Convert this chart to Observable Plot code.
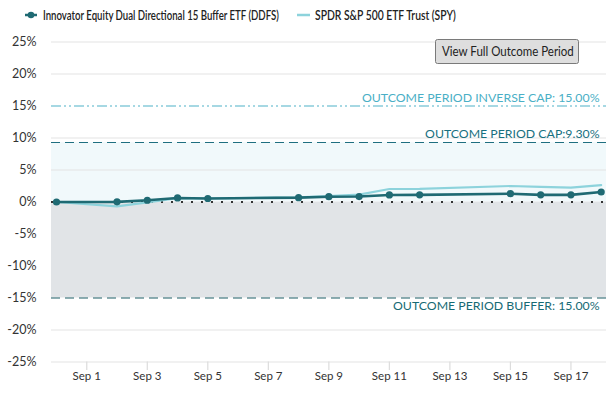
<!DOCTYPE html>
<html>
<head>
<meta charset="utf-8">
<script src="https://cdn.jsdelivr.net/npm/d3@7"></script>
<script src="https://cdn.jsdelivr.net/npm/@observablehq/plot@0.6"></script>
<style>
  html, body { margin: 0; padding: 0; background: #fff; }
  #wrap { position: relative; width: 615px; height: 393px; font-family: Lato, "Open Sans", sans-serif; }
  #overlay { position: absolute; left: 0; top: 0; width: 615px; height: 70px; }
  svg { display: block; }
</style>
</head>
<body>
<div id="wrap">
  <div id="chart"></div>
  <svg id="overlay" width="615" height="70"></svg>
</div>
<script>
const dates = ["2025-08-31","2025-09-02","2025-09-03","2025-09-04","2025-09-05","2025-09-08","2025-09-09","2025-09-10","2025-09-11","2025-09-12","2025-09-15","2025-09-16","2025-09-17","2025-09-18"];
const ddfs = [0, 0.02, 0.27, 0.63, 0.55, 0.68, 0.83, 0.85, 1.1, 1.12, 1.3, 1.12, 1.12, 1.56];
const spy  = [0, -0.68, -0.05, 0.6, 0.55, 0.72, 0.94, 1.15, 2.03, 2.05, 2.5, 2.35, 2.25, 2.65];
const seriesNames = ["Innovator Equity Dual Directional 15 Buffer ETF (DDFS)", "SPDR S&P 500 ETF Trust (SPY)"];
const yTicks = [25, 20, 15, 10, 5, 0, -5, -10, -15, -20, -25];
const gridTicks = [25, 20, 10, 5, -20, -25];
const xTickDates = ["2025-09-01","2025-09-03","2025-09-05","2025-09-07","2025-09-09","2025-09-11","2025-09-13","2025-09-15","2025-09-17"];
const capValue = 9.30;
const inverseCapValue = 15.00;
const bufferValue = -15.00;
const capLabel = "OUTCOME PERIOD CAP:9.30%";
const inverseCapLabel = "OUTCOME PERIOD INVERSE CAP: 15.00%";
const bufferLabel = "OUTCOME PERIOD BUFFER: 15.00%";
const buttonLabel = "View Full Outcome Period";

const parse = d3.utcParse("%Y-%m-%d");
const rowsD = dates.map((d, i) => ({date: parse(d), v: ddfs[i]}));
const rowsS = dates.map((d, i) => ({date: parse(d), v: spy[i]}));
const xt = xTickDates.map(parse);
const fmtX = d3.utcFormat("%b %-d");

const dark = "#1f6a73", light = "#8dd3dc";
const labelFont = "Lato, sans-serif";

const plot = Plot.plot({
  width: 615, height: 393,
  marginTop: 41.5, marginBottom: 31.5, marginLeft: 51, marginRight: 9,
  style: {fontFamily: labelFont, background: "transparent"},
  x: {type: "utc", domain: [parse("2025-08-31"), parse("2025-09-18")], insetLeft: 5, insetRight: 5.3},
  y: {domain: [-25, 25]},
  axis: null,
  marks: [
    Plot.rect([{a: 0, b: capValue}], {y1: "a", y2: "b", fill: "#f1f9fb"}),
    Plot.rect([{a: bufferValue, b: 0}], {y1: "a", y2: "b", fill: "#e1e4e7"}),
    Plot.ruleY(gridTicks, {stroke: "#e3e3e3", strokeWidth: 1.2}),
    Plot.ruleY([inverseCapValue], {stroke: "#4eb2c7", strokeWidth: 1.2, strokeDasharray: "10,3,2,3,2,3"}),
    Plot.ruleY([capValue], {stroke: "#1f6f80", strokeWidth: 1.2, strokeDasharray: "9,5"}),
    Plot.ruleY([bufferValue], {stroke: "#1d5e66", strokeWidth: 1.2, strokeDasharray: "9,5"}),
    Plot.ruleY([0], {stroke: "#333", strokeWidth: 2, strokeDasharray: "2,8"}),
    Plot.text([inverseCapLabel], {y: [inverseCapValue], text: d => d, frameAnchor: "right", textAnchor: "end", dx: -7, dy: -8, fill: "#4aafc6", fontSize: 12.3, fontFamily: labelFont, style: "letter-spacing:0.5px"}),
    Plot.text([capLabel], {y: [capValue], text: d => d, frameAnchor: "right", textAnchor: "end", dx: -7, dy: -8, fill: "#18707f", fontSize: 12.3, fontFamily: labelFont, style: "letter-spacing:0.7px"}),
    Plot.text([bufferLabel], {y: [bufferValue], text: d => d, frameAnchor: "right", textAnchor: "end", dx: -7, dy: 8, fill: "#166a74", fontSize: 12.3, fontFamily: labelFont, style: "letter-spacing:0.5px"}),
    Plot.text(yTicks, {y: d => d, text: d => d + "%", frameAnchor: "left", textAnchor: "end", dx: -15, fill: "#333", fontSize: 12.5, fontFamily: labelFont}),
    Plot.ruleX(xt, {x: d => d, y1: -25, y2: -25, insetBottom: -8.5, stroke: "#dcdcdc", strokeWidth: 1.2}),
    Plot.text(xt, {x: d => d, text: d => fmtX(d), frameAnchor: "bottom", dy: 18, fill: "#333", fontSize: 11.5, fontFamily: labelFont}),
    Plot.line(rowsS, {x: "date", y: "v", stroke: light, strokeWidth: 2.2}),
    Plot.line(rowsD, {x: "date", y: "v", stroke: dark, strokeWidth: 2.6}),
    Plot.dot(rowsD, {x: "date", y: "v", fill: dark, r: 3.6})
  ]
});
document.getElementById("chart").appendChild(plot);

// legend + button overlay
const lg = d3.select("#overlay");
function squeezed(x, y, width, txt, size, weight) {
  const g = lg.append("g");
  const t = g.append("text").attr("x", 0).attr("y", 0).attr("fill", "#222").attr("font-family", labelFont)
    .attr("font-size", size).attr("font-weight", weight).text(txt);
  const len = t.node().getComputedTextLength() || width;
  g.attr("transform", `translate(${x},${y}) scale(${width / len},1)`);
}
lg.append("line").attr("x1", 25).attr("x2", 37).attr("y1", 15).attr("y2", 15).attr("stroke", dark).attr("stroke-width", 2.5);
lg.append("circle").attr("cx", 31).attr("cy", 15).attr("r", 3.3).attr("fill", dark);
squeezed(43, 19.5, 236, seriesNames[0], 12.5, 600);
lg.append("line").attr("x1", 297).attr("x2", 310).attr("y1", 15).attr("y2", 15).attr("stroke", light).attr("stroke-width", 2.5);
squeezed(315, 19.5, 141, seriesNames[1], 12.5, 600);
lg.append("rect").attr("x", 435.5).attr("y", 39.5).attr("width", 143).attr("height", 24).attr("rx", 2)
  .attr("fill", "#dedede").attr("stroke", "#7a7a7a").attr("stroke-width", 1);
squeezed(442, 56, 132, buttonLabel, 13, 400);
</script>
</body>
</html>
